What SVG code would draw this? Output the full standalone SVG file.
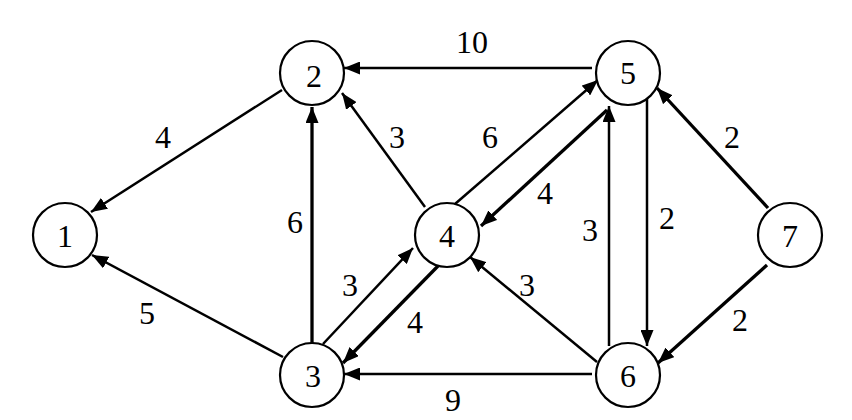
<svg xmlns="http://www.w3.org/2000/svg" width="852" height="420" viewBox="0 0 852 420">
<style>
  .node circle { fill: #fff; stroke: #000; stroke-width: 2.2; }
  text { font-family: 'Liberation Serif', 'DejaVu Serif', serif; font-size: 32px; fill: #000; text-anchor: middle; }
  .edges line { stroke: #000; stroke-width: 2.5; marker-end: url(#ah); }
  .edges line.thick { stroke-width: 3.3; }
</style>
<defs>
  <marker id="ah" markerUnits="userSpaceOnUse" markerWidth="17" markerHeight="13" refX="16" refY="6.5" orient="auto">
    <path d="M0,0 L16,6.5 L0,13 z" fill="#000"/>
  </marker>
</defs>
<rect width="852" height="420" fill="#fff"/>
<g id="connectors" class="edges">
  <line id="e2-1" x1="282" y1="90" x2="91" y2="212"/>
  <line id="e3-1" x1="283" y1="357" x2="92" y2="255"/>
  <line id="e3-2" class="thick" x1="312" y1="343" x2="312" y2="107"/>
  <line id="e4-2" x1="425" y1="207" x2="342" y2="93"/>
  <line id="e5-2" x1="592" y1="68" x2="344" y2="68"/>
  <line id="e4-5" x1="455" y1="204" x2="598" y2="80"/>
  <line id="e5-4" class="thick" x1="607" y1="110" x2="481" y2="226"/>
  <line id="e3-4" x1="323" y1="344" x2="413" y2="248"/>
  <line id="e4-3" class="thick" x1="438" y1="266" x2="343" y2="363"/>
  <line id="e6-3" x1="592" y1="374" x2="344" y2="374"/>
  <line id="e6-4" x1="597" y1="362" x2="470" y2="257"/>
  <line id="e6-5" x1="609" y1="346" x2="609" y2="106"/>
  <line id="e5-6" x1="647" y1="98" x2="647" y2="346"/>
  <line id="e7-5" class="thick" x1="768" y1="208" x2="657" y2="88"/>
  <line id="e7-6" class="thick" x1="767" y1="265" x2="658" y2="363"/>
</g>
<g id="edge-labels" font-family="Liberation Serif, serif">
  <text x="163" y="148">4</text>
  <text x="147" y="324">5</text>
  <text x="295" y="233">6</text>
  <text x="397" y="148">3</text>
  <text x="472" y="53">10</text>
  <text x="490" y="148">6</text>
  <text x="545" y="204">4</text>
  <text x="350" y="296">3</text>
  <text x="415" y="333">4</text>
  <text x="453" y="411">9</text>
  <text x="527" y="296">3</text>
  <text x="590" y="241">3</text>
  <text x="667" y="229">2</text>
  <text x="732" y="148">2</text>
  <text x="740" y="331">2</text>
</g>
<g id="node1" class="node"><circle cx="65" cy="235" r="32"/><text x="65" y="247">1</text></g>
<g id="node2" class="node"><circle cx="312" cy="73" r="32"/><text x="314" y="87">2</text></g>
<g id="node3" class="node"><circle cx="312" cy="375" r="32"/><text x="313" y="387">3</text></g>
<g id="node4" class="node"><circle cx="447" cy="235" r="32"/><text x="447" y="247">4</text></g>
<g id="node5" class="node"><circle cx="628" cy="73" r="32"/><text x="628" y="84">5</text></g>
<g id="node6" class="node"><circle cx="628" cy="375" r="32"/><text x="628" y="387">6</text></g>
<g id="node7" class="node"><circle cx="790" cy="235" r="32"/><text x="790" y="247">7</text></g>
</svg>
